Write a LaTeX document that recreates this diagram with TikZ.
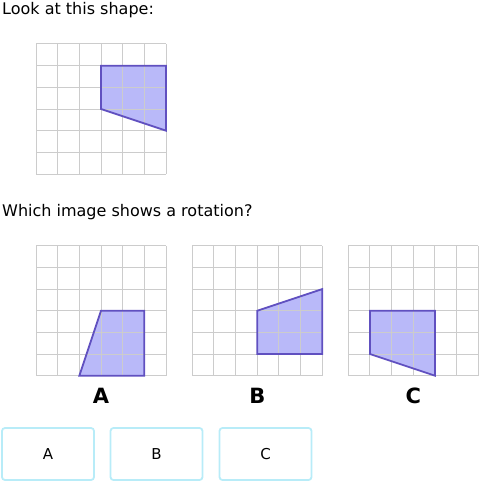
\documentclass[tikz,border=0pt]{standalone}
\usepackage{fontspec}
\setmainfont{DejaVu Sans}
\definecolor{shapefill}{RGB}{185,185,249}
\definecolor{shapeline}{RGB}{96,80,192}
\definecolor{gridgray}{RGB}{204,204,204}
\definecolor{btnblue}{RGB}{184,236,248}

\tikzset{
    gridline/.style={gridgray, line width=1pt},
    polyfill/.style={fill=shapefill},
    polyline/.style={shapeline, line width=1.8pt, line join=miter},
    optlabel/.style={font=\fontsize{21}{21}\selectfont\bfseries, inner sep=0pt},
    question/.style={font=\fontsize{16}{18}\selectfont, anchor=base west, inner sep=0pt},
    answerbtn/.style={draw=btnblue, line width=1.8pt, rounded corners=3pt, minimum width=92pt, minimum height=52pt, font=\fontsize{15}{17}\selectfont}
}

\begin{document}
\begin{tikzpicture}[x=1pt, y=-1pt]
    \useasboundingbox (0,0) rectangle (480,482);

    % Question
    \node[question] (look) at (2,14) {Look at this shape:};

    \begin{scope}[shift={(36,174)}, x=21.667pt, y=21.667pt]
        \fill[polyfill] (3,5) -- (6,5) -- (6,2) -- (3,3) -- cycle;
        \foreach \i in {0,...,6} {
            \draw[gridline] (\i,0) -- (\i,6);
            \draw[gridline] (0,\i) -- (6,\i);
        }
        \draw[polyline] (3,5) -- (6,5) -- (6,2) -- (3,3) -- cycle;
    \end{scope}

    \node[question] (which) at (2,216) {Which image shows a rotation?};

    % Options
    \begin{scope}[shift={(36,375.7)}, x=21.667pt, y=21.667pt]
        \fill[polyfill] (2,0) -- (3,3) -- (5,3) -- (5,0) -- cycle;
        \foreach \i in {0,...,6} {
            \draw[gridline] (\i,0) -- (\i,6);
            \draw[gridline] (0,\i) -- (6,\i);
        }
        \draw[polyline] (2,0) -- (3,3) -- (5,3) -- (5,0) -- cycle;
    \end{scope}

    \begin{scope}[shift={(192.3,375.7)}, x=21.667pt, y=21.667pt]
        \fill[polyfill] (3,1) -- (3,3) -- (6,4) -- (6,1) -- cycle;
        \foreach \i in {0,...,6} {
            \draw[gridline] (\i,0) -- (\i,6);
            \draw[gridline] (0,\i) -- (6,\i);
        }
        \draw[polyline] (3,1) -- (3,3) -- (6,4) -- (6,1) -- cycle;
    \end{scope}

    \begin{scope}[shift={(348.3,375.7)}, x=21.667pt, y=21.667pt]
        \fill[polyfill] (1,3) -- (4,3) -- (4,0) -- (1,1) -- cycle;
        \foreach \i in {0,...,6} {
            \draw[gridline] (\i,0) -- (\i,6);
            \draw[gridline] (0,\i) -- (6,\i);
        }
        \draw[polyline] (1,3) -- (4,3) -- (4,0) -- (1,1) -- cycle;
    \end{scope}

    \node[optlabel] (labelA) at (101,396) {A};
    \node[optlabel] (labelB) at (257.3,396) {B};
    \node[optlabel] (labelC) at (413.3,396) {C};

    % Answer buttons
    \node[answerbtn] (btnA) at (48,454) {A};
    \node[answerbtn] (btnB) at (156.5,454) {B};
    \node[answerbtn] (btnC) at (265.5,454) {C};
\end{tikzpicture}
\end{document}
